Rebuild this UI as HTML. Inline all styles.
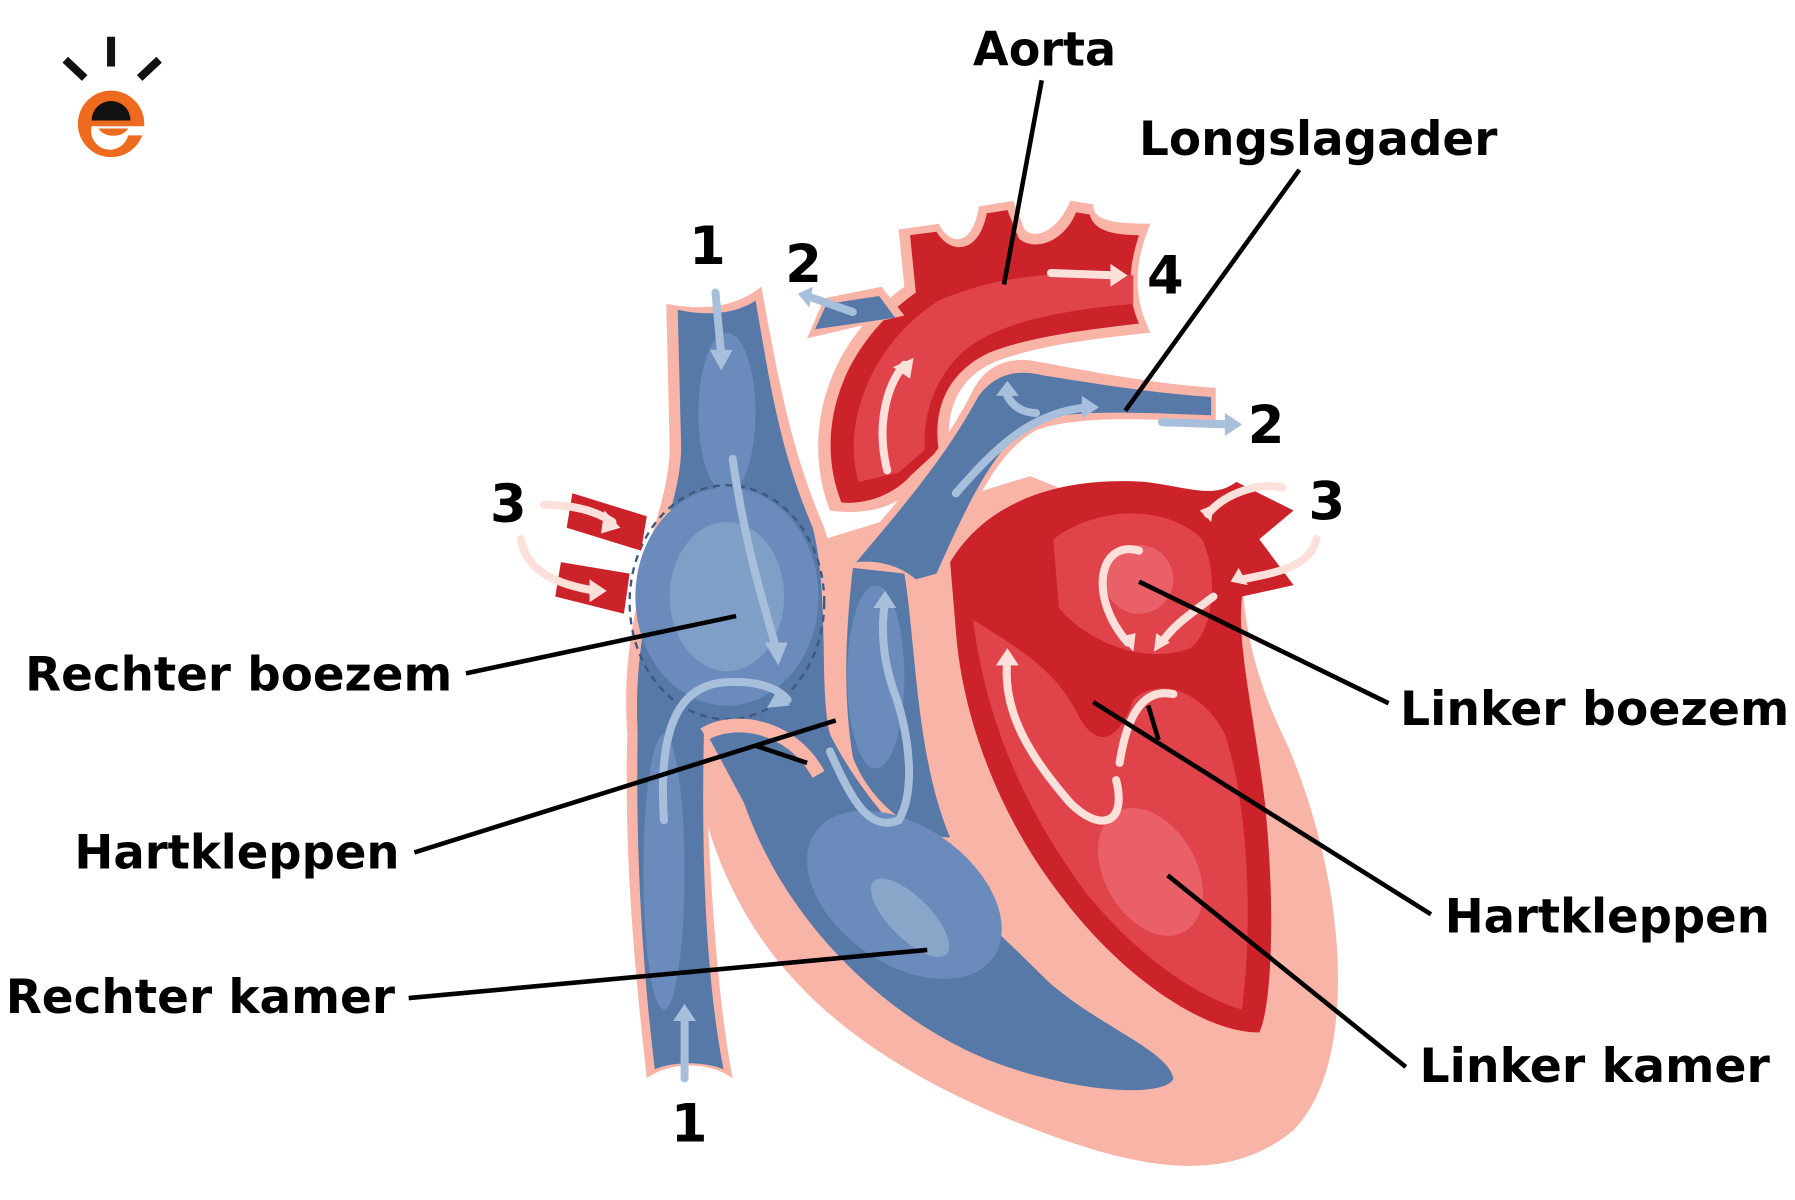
<!DOCTYPE html>
<html><head><meta charset="utf-8"><style>
html,body{margin:0;padding:0;background:#fff;}
svg{display:block}
text{font-family:"DejaVu Sans","Liberation Sans",sans-serif;font-weight:bold;fill:#000;}
</style></head><body>
<svg width="1795" height="1200" viewBox="0 0 1568 1046" preserveAspectRatio="none">
<!-- logo -->
<g stroke="#111" stroke-width="7" stroke-linecap="butt">
<line x1="97" y1="32" x2="97" y2="58"/><line x1="57" y1="52" x2="74" y2="68"/><line x1="139" y1="52" x2="122" y2="68"/>
</g>
<circle cx="97" cy="108" r="29" fill="#ee6a1f"/>
<path d="M80 105 A17 17 0 0 1 114 105 Z" fill="#111"/>
<path d="M80 110 H127 V118 H112 A16 16 0 0 1 80 110Z" fill="#fff"/>
<path d="M86 112 H112 A14 10 0 0 1 86 112Z" fill="#ee6a1f"/>

<!-- outer pink heart -->
<path d="M600 630 C620 800,700 900,880 975 C990 1020,1070 1035,1130 985 C1185 930,1180 780,1125 650 C1095 590,1085 540,1085 490 L900 415 L720 470 Z" fill="#f9b4a8"/>

<!-- aorta arch -->
<path d="M725 445 C700 380,720 300,790 250 L785 200 L820 195 C830 215,850 215,855 180 L885 175 L895 200 C905 210,925 200,935 175 L955 178 C955 190,965 195,1005 195 C990 230,990 260,1005 290 C960 295,910 300,870 315 C835 330,825 360,830 395 L800 420 C790 440,760 450,725 445Z" fill="#f9b4a8"/>
<path d="M735 438 C712 380,730 305,800 255 L795 205 L818 202 C830 222,855 222,862 186 L880 183 L890 208 C905 220,930 210,940 185 L952 187 C955 200,970 205,995 205 C985 235,985 260,995 282 C955 287,905 292,865 307 C825 325,815 360,820 392 L795 415 C780 432,755 440,735 438Z" fill="#cc2229"/>
<path d="M750 420 C735 370,760 300,820 262 C870 240,930 235,990 240 L990 265 C930 270,880 280,850 300 C820 320,805 360,808 392 L785 412Z" fill="#e0434a"/>

<!-- left atrium/ventricle red -->
<path d="M830 490 C860 440,920 415,1000 420 C1040 425,1060 435,1080 420 L1130 445 L1100 470 L1130 510 L1085 520 C1080 560,1095 620,1105 700 C1115 800,1110 880,1100 900 C1050 900,980 850,930 785 C870 710,840 620,835 550 Z" fill="#cc2229"/>
<path d="M920 470 C960 440,1020 440,1050 470 C1065 500,1060 550,1040 565 C1000 580,950 560,925 530 Z" fill="#e0434a"/>
<circle cx="995" cy="505" r="30" fill="#ea6068"/>
<path d="M850 540 C860 620,890 700,950 780 C1000 840,1050 870,1085 880 C1095 800,1090 700,1070 640 C1050 600,1010 590,990 610 C980 640,960 660,940 620 C920 580,880 560,850 540Z" fill="#e0434a"/>
<ellipse cx="1005" cy="760" rx="40" ry="60" transform="rotate(-30 1005 760)" fill="#ea6068"/>

<!-- pulmonary artery blue -->
<path d="M735 495 C780 440,820 400,850 340 C860 320,880 310,905 315 C960 325,1010 335,1062 338 L1062 368 C1000 365,940 362,905 375 C870 395,850 440,825 500 L800 515 C780 495,755 490,735 495Z" fill="#f9b4a8"/>
<path d="M748 490 C790 440,825 400,855 345 C870 325,890 322,910 327 C960 335,1010 343,1058 346 L1058 362 C1000 360,940 356,905 367 C870 385,845 440,818 500 L800 505 C785 492,765 488,748 490Z" fill="#5679a8"/>
<path d="M720 260 L770 250 L790 275 L705 295 Z" fill="#f9b4a8"/>
<path d="M722 265 L768 258 L782 277 L712 287 Z" fill="#5679a8"/>

<!-- vena cava + right side blue -->
<path d="M582 265 C610 270,640 270,665 250 C680 330,690 390,720 460 C740 520,720 600,720 640 C760 720,840 780,910 850 C960 900,1030 920,1035 945 C1035 965,960 965,880 940 C780 910,680 820,640 700 L615 640 C620 760,625 860,640 940 C620 925,585 925,565 940 C555 850,545 750,548 640 C545 600,548 560,560 510 C565 470,585 430,585 390 Z" fill="#f9b4a8"/>
<path d="M592 270 C615 275,640 275,660 262 C672 330,680 390,710 460 C725 520,715 600,725 640 C765 720,845 785,915 855 C960 895,1020 915,1025 940 C1020 955,955 955,880 930 C790 900,690 815,650 700 L615 635 C612 760,618 860,632 932 C615 925,588 925,572 932 C562 850,555 750,557 640 C555 600,558 560,570 510 C575 470,595 430,595 390 Z" fill="#5679a8"/>
<path d="M745 495 C740 540,735 600,745 660 C760 700,800 730,830 730 C800 660,800 560,790 500 Z" fill="#5679a8"/>
<ellipse cx="765" cy="590" rx="25" ry="80" fill="#6a8bbb"/>
<ellipse cx="635" cy="520" rx="80" ry="95" fill="#6a8bbb"/>
<ellipse cx="635" cy="520" rx="50" ry="65" fill="#7f9fc6"/>
<ellipse cx="635" cy="360" rx="25" ry="70" fill="#6a8bbb"/>
<ellipse cx="790" cy="780" rx="95" ry="60" transform="rotate(35 790 780)" fill="#6a8bbb"/>
<ellipse cx="795" cy="800" rx="45" ry="18" transform="rotate(45 795 800)" fill="#89a6c8"/>
<ellipse cx="580" cy="760" rx="18" ry="120" fill="#6a8bbb"/>
<ellipse cx="635" cy="525" rx="85" ry="102" fill="none" stroke="#3d577d" stroke-width="2" stroke-dasharray="6 5"/>
<path d="M615 640 C640 625,690 630,715 675" stroke="#f9b4a8" stroke-width="12" fill="none"/>

<!-- red vessels left -->
<path d="M500 430 L565 450 L560 480 L495 460 Z" fill="#cc2229"/>
<path d="M490 490 L550 500 L545 535 L485 520 Z" fill="#cc2229"/>

<!-- arrows light -->
<g fill="none" stroke-width="7" stroke-linecap="round">
<path d="M625 255 L630 310" stroke="#a8bfdc"/>
<path d="M640 400 C650 470,665 520,678 565" stroke="#a8bfdc"/>
<path d="M580 715 C575 640,590 600,630 595 C660 592,680 600,688 610" stroke="#a8bfdc"/>
<path d="M598 940 L598 885" stroke="#a8bfdc"/>
<path d="M725 655 C745 700,760 725,785 715 C800 690,795 640,780 600 C770 570,770 545,773 525" stroke="#a8bfdc"/>
<path d="M835 430 C870 390,900 360,950 355" stroke="#a8bfdc"/>
<path d="M1015 368 L1075 370" stroke="#a8bfdc"/>
<path d="M745 272 L705 258" stroke="#a8bfdc"/>
<path d="M880 345 C885 355,895 360,905 360" stroke="#a8bfdc"/>
<path d="M775 410 C765 370,775 335,790 318" stroke="#fde0da"/>
<path d="M918 238 L975 240" stroke="#fde0da"/>
<path d="M475 440 C500 440,520 445,535 455" stroke="#fde0da"/>
<path d="M455 470 C460 500,490 510,520 515" stroke="#fde0da"/>
<path d="M1120 425 C1100 420,1070 430,1055 448" stroke="#fde0da"/>
<path d="M1150 470 C1145 495,1110 500,1085 505" stroke="#fde0da"/>
<path d="M995 480 C960 470,950 520,985 560" stroke="#fde0da"/>
<path d="M1060 520 C1040 535,1025 545,1015 560" stroke="#fde0da"/>
<path d="M978 665 C985 620,1000 600,1025 605" stroke="#fde0da"/>
<path d="M975 680 C985 720,960 725,935 700 C900 660,875 620,880 575" stroke="#fde0da"/>
</g>
<g fill="#a8bfdc">
<polygon points="620,305 640,305 630,323"/><polygon points="668,560 688,560 680,580"/><polygon points="680,600 690,615 670,617"/>
<polygon points="588,890 608,890 598,875"/><polygon points="763,530 783,530 773,515"/><polygon points="945,345 960,355 945,365"/>
<polygon points="1070,360 1085,370 1070,380"/><polygon points="710,250 697,256 707,268"/><polygon points="870,345 880,332 890,345"/>
</g>
<g fill="#fde0da">
<polygon points="780,320 798,312 795,330"/><polygon points="970,230 985,240 970,250"/><polygon points="528,445 542,460 525,465"/>
<polygon points="515,505 530,515 515,525"/><polygon points="1048,445 1060,440 1058,455"/><polygon points="1082,495 1075,507 1090,510"/>
<polygon points="978,555 990,568 992,552"/><polygon points="1010,552 1008,568 1022,560"/><polygon points="870,580 880,565 890,580"/>
</g>

<!-- leader lines -->
<g stroke="#000" stroke-width="4">
<line x1="910" y1="70" x2="877" y2="248"/>
<line x1="1135" y1="148" x2="983" y2="358"/>
<line x1="407" y1="587" x2="643" y2="537"/>
<line x1="362" y1="743" x2="730" y2="628"/>
<line x1="660" y1="650" x2="705" y2="665"/>
<line x1="357" y1="870" x2="810" y2="828"/>
<line x1="995" y1="507" x2="1213" y2="613"/>
<line x1="955" y1="612" x2="1250" y2="797"/>
<line x1="1003" y1="615" x2="1012" y2="645"/>
<line x1="1020" y1="763" x2="1228" y2="930"/>
</g>

<!-- labels -->
<g font-size="41">
<text x="850" y="57" textLength="125" lengthAdjust="spacingAndGlyphs">Aorta</text>
<text x="995" y="135" textLength="313" lengthAdjust="spacingAndGlyphs">Longslagader</text>
<text x="22" y="602" textLength="373" lengthAdjust="spacingAndGlyphs">Rechter boezem</text>
<text x="65" y="757" textLength="284" lengthAdjust="spacingAndGlyphs">Hartkleppen</text>
<text x="5" y="883" textLength="340" lengthAdjust="spacingAndGlyphs">Rechter kamer</text>
<text x="1223" y="632" textLength="340" lengthAdjust="spacingAndGlyphs">Linker boezem</text>
<text x="1262" y="813" textLength="284" lengthAdjust="spacingAndGlyphs">Hartkleppen</text>
<text x="1240" y="943" textLength="306" lengthAdjust="spacingAndGlyphs">Linker kamer</text>
</g>
<g font-size="46">
<text x="602" y="230">1</text>
<text x="686" y="246">2</text>
<text x="1002" y="256">4</text>
<text x="1090" y="386">2</text>
<text x="428" y="455">3</text>
<text x="1143" y="453">3</text>
<text x="586" y="995">1</text>
</g>
</svg>
</body></html>
